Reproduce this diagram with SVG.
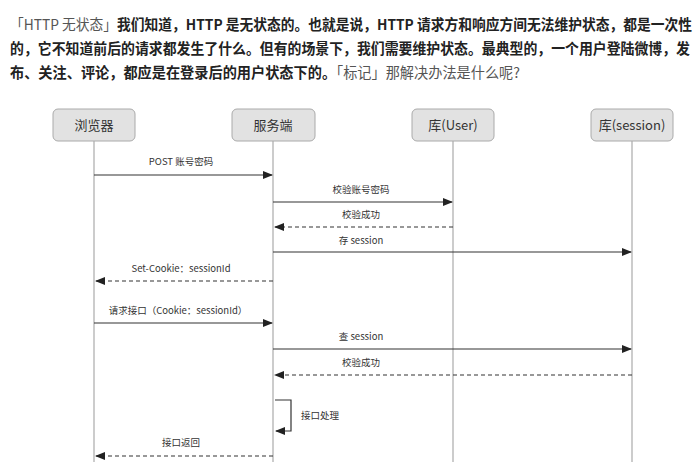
<svg xmlns="http://www.w3.org/2000/svg" width="696" height="462" viewBox="0 0 696 462">
<style>
.p{font-family:"Noto Sans CJK SC","Liberation Sans",sans-serif;font-size:14.5px;fill:#222;font-weight:bold}
.g{font-weight:normal;fill:#555}
.hd rect{fill:#e2e2e2;stroke:#aaa;stroke-width:1}
.hd text{font-family:"Noto Sans CJK SC","Liberation Sans",sans-serif;font-size:13px;fill:#333;text-anchor:middle}
.life{stroke:#bbb;stroke-width:1.5}
.m{stroke:#333;stroke-width:1.2;fill:none}
.d{stroke-dasharray:4 3}
.l{font-family:"Noto Sans CJK SC","Liberation Sans",sans-serif;font-size:9.5px;fill:#333;text-anchor:middle}
</style>
<defs><marker id="a" markerWidth="10" markerHeight="8" refX="9" refY="4" orient="auto" markerUnits="userSpaceOnUse"><path d="M0,0L10,4L0,8z" fill="#222"/></marker></defs>
<rect width="696" height="462" fill="#fff"/>
<text class="p" x="10" y="30" textLength="682" lengthAdjust="spacingAndGlyphs"><tspan class="g">「HTTP 无状态」</tspan>我们知道，HTTP 是无状态的。也就是说，HTTP 请求方和响应方间无法维护状态，都是一次性</text>
<text class="p" x="10" y="54" textLength="680" lengthAdjust="spacingAndGlyphs">的，它不知道前后的请求都发生了什么。但有的场景下，我们需要维护状态。最典型的，一个用户登陆微博，发</text>
<text class="p" x="10" y="78" textLength="510" lengthAdjust="spacingAndGlyphs">布、关注、评论，都应是在登录后的用户状态下的。<tspan class="g">「标记」那解决办法是什么呢?</tspan></text>
<g id="lifelines">
<line class="life" x1="94" y1="140" x2="94" y2="462"/>
<line class="life" x1="273" y1="140" x2="273" y2="462"/>
<line class="life" x1="453" y1="140" x2="453" y2="462"/>
<line class="life" x1="632" y1="140" x2="632" y2="462"/>
</g>
<g id="browser" class="hd"><rect x="53" y="109" width="82" height="32" rx="5"/><text x="94" y="130">浏览器</text></g>
<g id="server" class="hd"><rect x="232" y="109" width="83" height="32" rx="5"/><text x="273" y="130">服务端</text></g>
<g id="dbuser" class="hd"><rect x="412" y="109" width="82" height="32" rx="5"/><text x="453" y="130">库(User)</text></g>
<g id="dbsession" class="hd"><rect x="591" y="109" width="82" height="32" rx="5"/><text x="632" y="130">库(session)</text></g>
<g id="connectors">
<line class="m" x1="94" y1="175" x2="272" y2="175" marker-end="url(#a)"/><text class="l" x="181" y="165">POST 账号密码</text>
<line class="m" x1="273" y1="202" x2="452" y2="202" marker-end="url(#a)"/><text class="l" x="361" y="193">校验账号密码</text>
<line class="m d" x1="453" y1="227" x2="275" y2="227" marker-end="url(#a)"/><text class="l" x="361" y="218">校验成功</text>
<line class="m" x1="273" y1="252" x2="631" y2="252" marker-end="url(#a)"/><text class="l" x="361" y="244">存 session</text>
<line class="m d" x1="273" y1="281" x2="96" y2="281" marker-end="url(#a)"/><text class="l" x="181" y="272">Set-Cookie：sessionId</text>
<line class="m" x1="94" y1="323" x2="272" y2="323" marker-end="url(#a)"/><text class="l" x="178" y="314">请求接口（Cookie：sessionId）</text>
<line class="m" x1="273" y1="349" x2="631" y2="349" marker-end="url(#a)"/><text class="l" x="361" y="340">查 session</text>
<line class="m d" x1="632" y1="375" x2="275" y2="375" marker-end="url(#a)"/><text class="l" x="361" y="366">校验成功</text>
<path class="m" d="M275,400H291V431H276" marker-end="url(#a)"/><text class="l" x="320" y="419">接口处理</text>
<line class="m d" x1="273" y1="456" x2="96" y2="456" marker-end="url(#a)"/><text class="l" x="181" y="446">接口返回</text>
</g>
</svg>
